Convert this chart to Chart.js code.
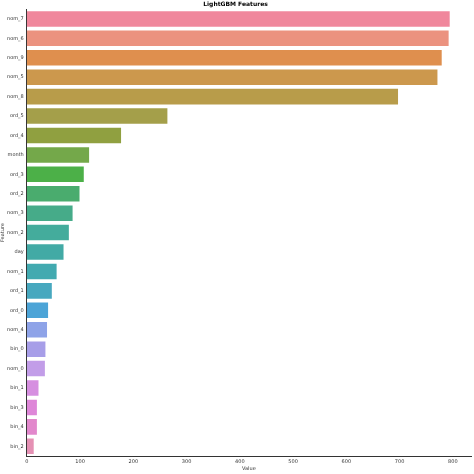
<!DOCTYPE html>
<html><head><script src="https://cdn.jsdelivr.net/npm/chart.js@4"></script>
<style>html,body{margin:0;background:#fff}#w{width:474px;height:474px}</style></head>
<body><div id="w"><canvas id="c"></canvas></div>
<script>
const features=["nom_7","nom_6","nom_9","nom_5","nom_8","ord_5","ord_4","month","ord_3","ord_2","nom_3","nom_2","day","nom_1","ord_1","ord_0","nom_4","bin_0","nom_0","bin_1","bin_3","bin_4","bin_2"];
const values=[794,792,779,771,697,264,177,117,107,99,86,79,69,56,47,40,38,35,34,22,19,19,13];
const xTicks=[0,100,200,300,400,500,600,700,800];
const colors=["#f0879c","#eb927f","#df8f4e","#cc984d","#b89c4a","#a49f4a","#90a040","#74a84a","#4cb048","#4aac6e","#46ab89","#44ac9c","#42aaa5","#42aab0","#47a8bf","#4ca4d7","#8ea3e8","#a79ee8","#c29de8","#d68fe0","#de87d8","#e288cc","#e591b4"];
Chart.defaults.font.family="DejaVu Sans";Chart.defaults.font.size=5;Chart.defaults.color="#333";
new Chart(document.getElementById('c'),{type:'bar',
data:{labels:features,datasets:[{data:values,backgroundColor:colors,categoryPercentage:0.8,barPercentage:1}]},
options:{indexAxis:'y',responsive:true,maintainAspectRatio:false,animation:false,
layout:{padding:{right:3,top:0,bottom:2}},
plugins:{legend:{display:false},tooltip:{enabled:false},title:{display:true,text:'LightGBM Features',font:{size:6},color:'#000',padding:{top:1,bottom:1}}},
scales:{x:{min:0,max:834,afterBuildTicks:a=>{a.ticks=xTicks.map(v=>({value:v}))},grid:{display:false,drawTicks:true,tickLength:2},border:{color:'#333'},ticks:{padding:1,maxRotation:0},title:{display:true,text:'Value',padding:0}},
y:{grid:{display:false,tickLength:2},border:{color:'#333'},ticks:{padding:1,autoSkip:false},title:{display:true,text:'Feature',padding:0}}}}});
</script></body></html>
